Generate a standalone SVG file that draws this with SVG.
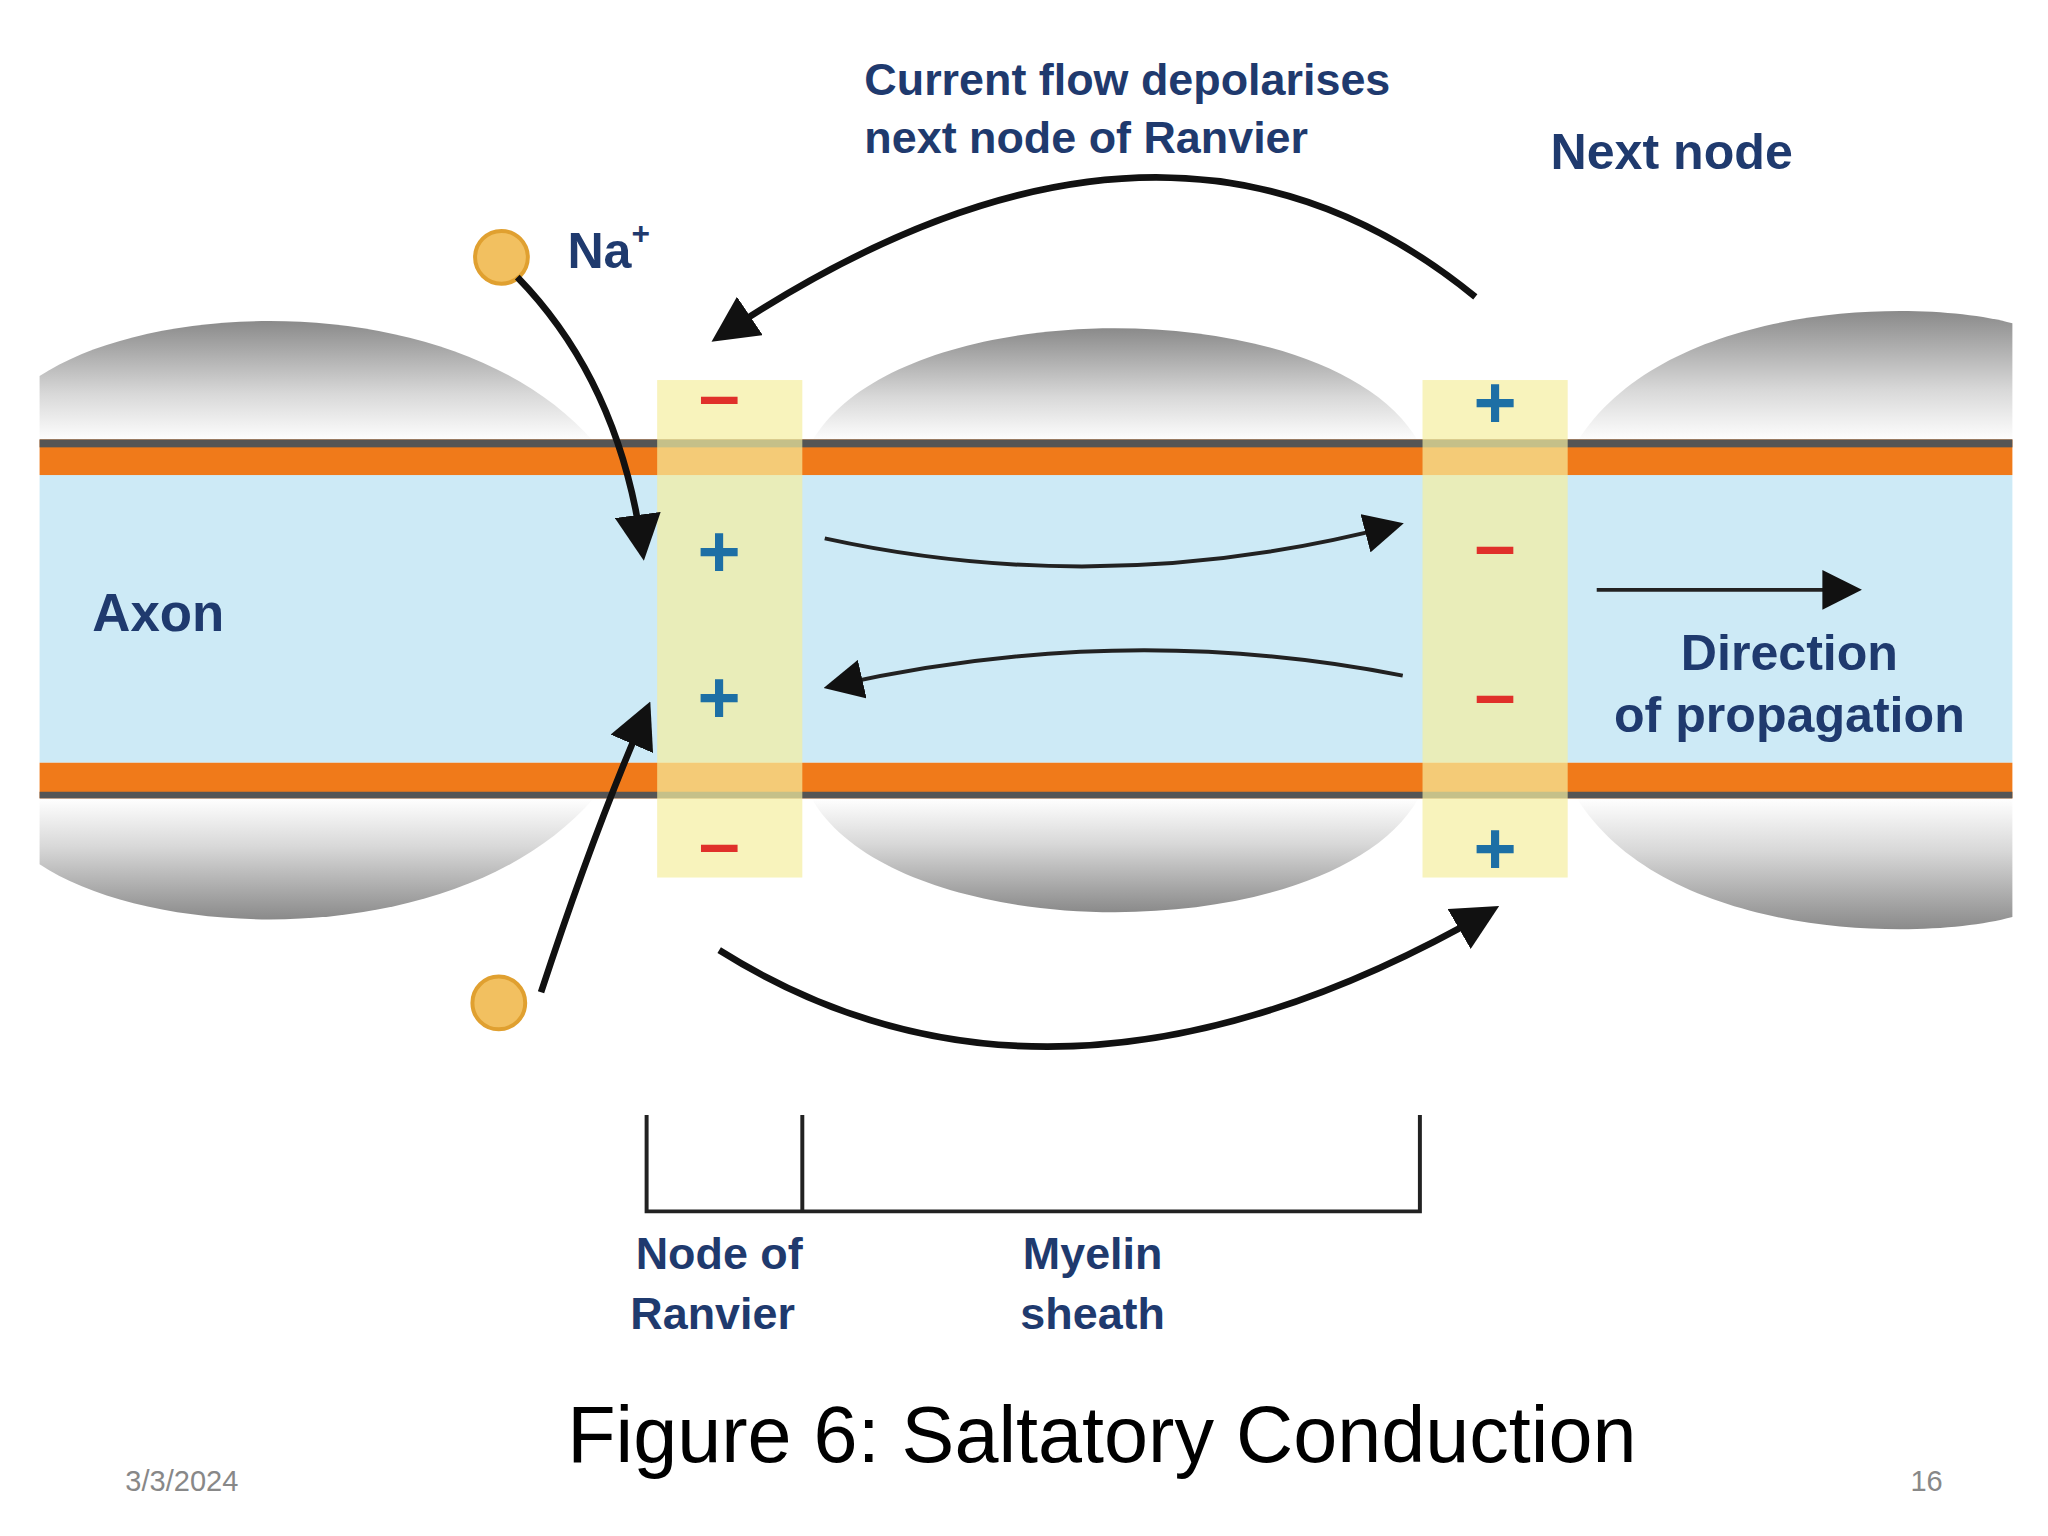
<svg xmlns="http://www.w3.org/2000/svg" width="2048" height="1536" viewBox="0 0 2048 1536">
<defs>
<linearGradient id="gt" x1="0" y1="0" x2="0" y2="1"><stop offset="0" stop-color="#8a8a8a"/><stop offset="0.6" stop-color="#d8d8d8"/><stop offset="1" stop-color="#ffffff"/></linearGradient>
<linearGradient id="gb" x1="0" y1="0" x2="0" y2="1"><stop offset="0" stop-color="#ffffff"/><stop offset="0.4" stop-color="#d8d8d8"/><stop offset="1" stop-color="#8a8a8a"/></linearGradient>
<marker id="ah" viewBox="0 0 10 10" refX="8" refY="5" markerWidth="7" markerHeight="7" orient="auto" markerUnits="strokeWidth"><path d="M0,0 L10,5 L0,10 Z" fill="#111"/></marker>
<marker id="as" viewBox="0 0 10 10" refX="8" refY="5" markerWidth="10" markerHeight="10" orient="auto" markerUnits="strokeWidth"><path d="M0,0 L10,5 L0,10 Z" fill="#111"/></marker>
<style>
.t{font-family:"Liberation Sans",Arial,sans-serif;font-weight:bold;fill:#1f3a6e}
.p{font-family:"Liberation Sans",Arial,sans-serif;font-weight:bold;fill:#1d6fa5;font-size:56px;text-anchor:middle}
.m{font-family:"Liberation Sans",Arial,sans-serif;font-weight:bold;fill:#e0302a;font-size:56px;text-anchor:middle}
.c{fill:none;stroke:#111;stroke-width:5}
.b{fill:none;stroke:#222;stroke-width:3}
</style>
</defs>
<rect width="2048" height="1536" fill="#fff"/>
<g transform="scale(1.3196)">
<g id="myelin">
<path d="M30,335 L30,285 C120,225 350,220 450,335 Z" fill="url(#gt)"/>
<path d="M615,335 C680,220 1010,220 1075,335 Z" fill="url(#gt)"/>
<path d="M1195,335 C1260,230 1450,225 1525,245 L1525,335 Z" fill="url(#gt)"/>
<path d="M30,605 L30,655 C120,715 350,720 450,605 Z" fill="url(#gb)"/>
<path d="M615,605 C680,720 1010,720 1075,605 Z" fill="url(#gb)"/>
<path d="M1195,605 C1260,710 1450,715 1525,695 L1525,605 Z" fill="url(#gb)"/>
</g>
<g id="axon">
<rect x="30" y="360" width="1495" height="218" fill="#cdeaf6"/>
<rect x="30" y="333" width="1495" height="27" fill="#f07a1a"/>
<rect x="30" y="333" width="1495" height="6" fill="#555"/>
<rect x="30" y="578" width="1495" height="27" fill="#f07a1a"/>
<rect x="30" y="600" width="1495" height="5" fill="#555"/>
<text class="t" x="70" y="478" font-size="40">Axon</text>
</g>
<g id="node1">
<rect x="498" y="288" width="110" height="377" fill="#f5eea0" opacity="0.7"/>
<text class="m" x="545" y="318">–</text>
<text class="p" x="545" y="437">+</text>
<text class="p" x="545" y="548">+</text>
<text class="m" x="545" y="658">–</text>
</g>
<g id="node2">
<rect x="1078" y="288" width="110" height="377" fill="#f5eea0" opacity="0.7"/>
<text class="p" x="1133" y="324">+</text>
<text class="m" x="1133" y="432">–</text>
<text class="m" x="1133" y="545">–</text>
<text class="p" x="1133" y="662">+</text>
</g>
<g id="na">
<circle cx="380" cy="195" r="20" fill="#f2c060" stroke="#e0a030" stroke-width="3"/>
<circle cx="378" cy="760" r="20" fill="#f2c060" stroke="#e0a030" stroke-width="3"/>
<text class="t" x="430" y="203" font-size="38">Na<tspan dy="-18" font-size="24">+</tspan></text>
</g>
<g id="connectors">
<path class="c" d="M1118,225 Q880,30 545,255" marker-end="url(#ah)"/>
<path class="c" d="M545,720 Q800,880 1130,690" marker-end="url(#ah)"/>
<path class="b" d="M625,408 Q840,455 1058,398" marker-end="url(#as)"/>
<path class="b" d="M1063,512 Q850,470 630,520" marker-end="url(#as)"/>
<path class="c" d="M392,210 Q470,290 487,418" marker-end="url(#ah)"/>
<path class="c" d="M410,752 Q450,630 490,538" marker-end="url(#ah)"/>
<path class="b" d="M1210,447 L1405,447" marker-end="url(#as)"/>
<path class="b" d="M490,845 L490,918 L1076,918 L1076,845 M608,845 L608,918"/>
</g>
<g id="labels">
<text class="t" x="655" y="72" font-size="34">Current flow depolarises</text>
<text class="t" x="655" y="116" font-size="34">next node of Ranvier</text>
<text class="t" x="1175" y="128" font-size="38">Next node</text>
<text class="t" x="1356" y="508" font-size="38" text-anchor="middle">Direction</text>
<text class="t" x="1356" y="555" font-size="38" text-anchor="middle">of propagation</text>
<text class="t" x="545" y="962" font-size="34" text-anchor="middle">Node of</text>
<text class="t" x="540" y="1007" font-size="34" text-anchor="middle">Ranvier</text>
<text class="t" x="828" y="962" font-size="34" text-anchor="middle">Myelin</text>
<text class="t" x="828" y="1007" font-size="34" text-anchor="middle">sheath</text>
</g>
<text x="835" y="1108" font-family="Liberation Sans,Arial,sans-serif" font-size="60" text-anchor="middle" fill="#000">Figure 6: Saltatory Conduction</text>
<text x="95" y="1130" font-family="Liberation Sans,Arial,sans-serif" font-size="22" fill="#888">3/3/2024</text>
<text x="1460" y="1130" font-family="Liberation Sans,Arial,sans-serif" font-size="22" fill="#888" text-anchor="middle">16</text>
</g>
</svg>
